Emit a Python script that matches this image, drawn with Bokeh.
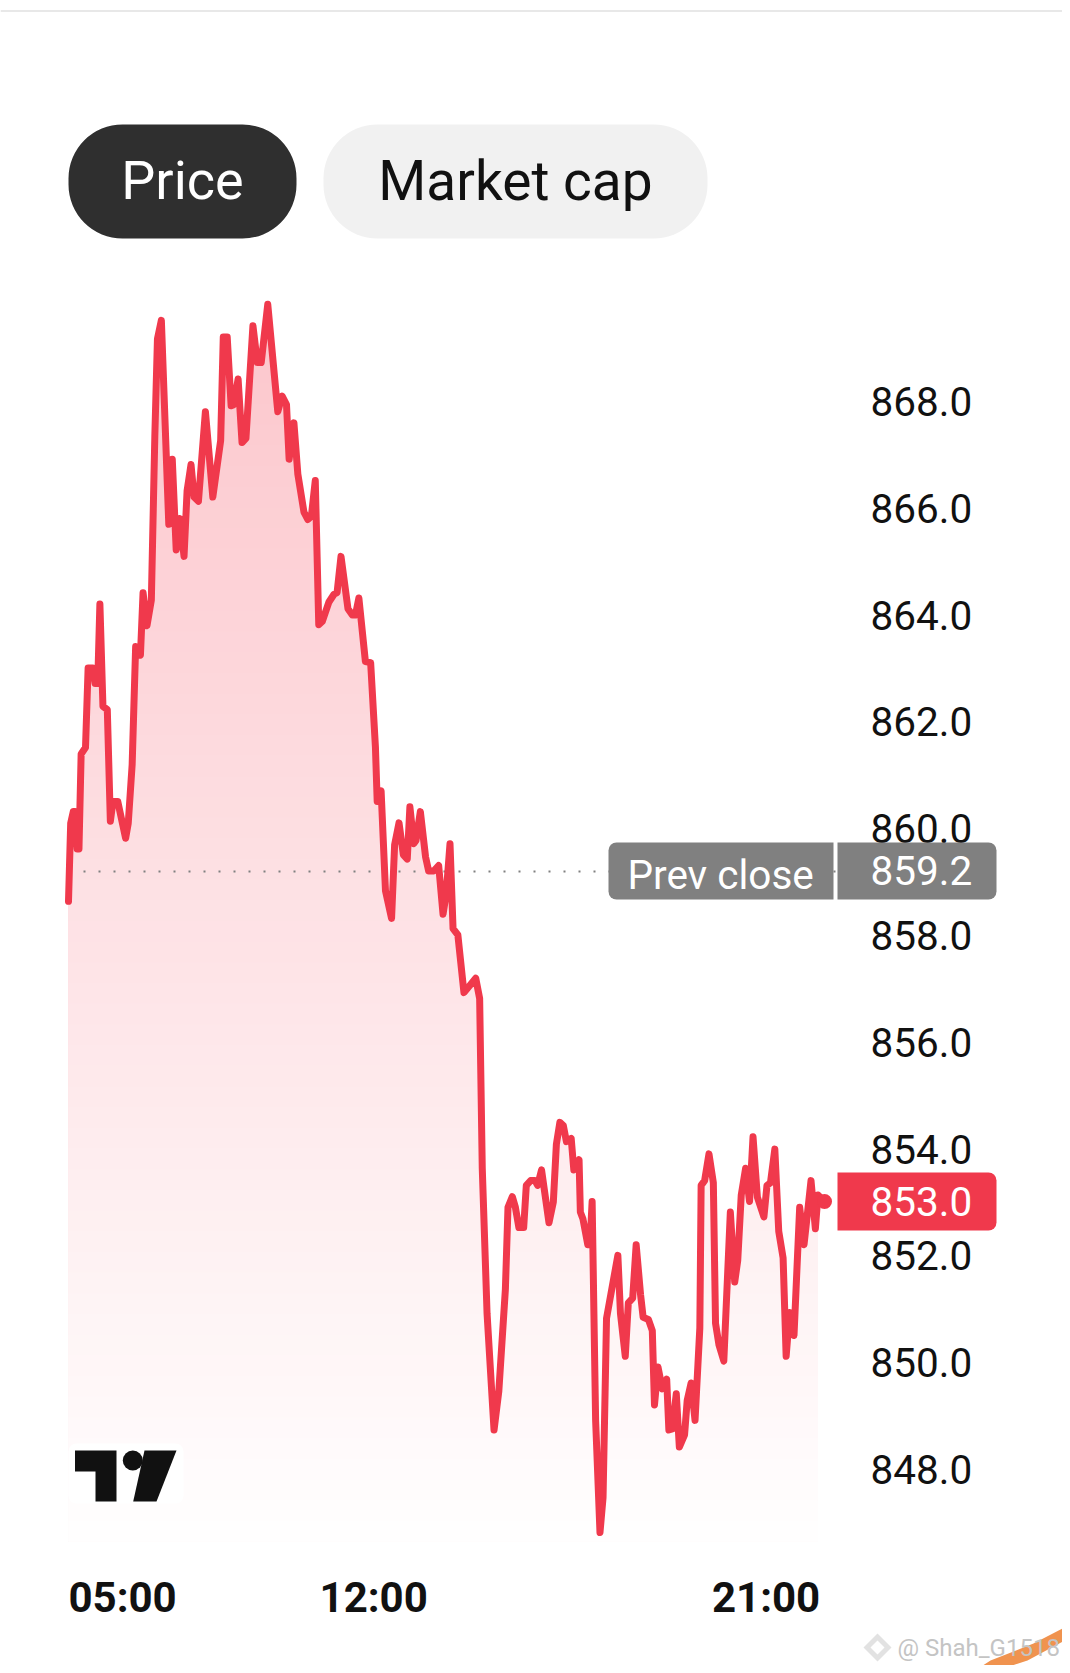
import numpy as np
from bokeh.plotting import figure
from bokeh.models import LinearAxis, Range1d, FixedTicker, BoxAnnotation, PolyAnnotation, Label
from bokeh.embed import file_html
from bokeh.resources import INLINE

# ---- data ----
hours = [5.00,5.05,5.11,5.15,5.20,5.24,5.29,5.39,5.45,5.56,5.61,5.67,5.72,5.79,5.89,5.96,6.02,6.13,6.31,6.37,
 6.46,6.54,6.65,6.71,6.80,6.90,6.98,7.04,7.13,7.30,7.38,7.47,7.55,7.65,7.72,7.81,7.88,7.98,8.14,8.31,
 8.49,8.55,8.64,8.73,8.79,8.89,8.98,9.07,9.23,9.33,9.42,9.57,9.80,9.90,10.00,10.06,10.17,10.26,10.40,10.49,
 10.57,10.66,10.74,10.82,10.97,11.09,11.16,11.25,11.41,11.51,11.58,11.66,11.81,11.93,12.04,12.08,12.17,12.27,12.41,12.48,
 12.58,12.68,12.77,12.83,12.92,12.97,13.07,13.19,13.26,13.38,13.49,13.59,13.66,13.75,13.82,13.93,14.07,14.34,14.43,14.49,
 14.60,14.76,14.87,15.02,15.08,15.18,15.25,15.33,15.44,15.50,15.60,15.70,15.76,15.85,16.02,16.12,16.19,16.27,16.35,16.42,
 16.53,16.59,16.71,16.74,16.80,16.91,16.96,17.01,17.09,17.19,17.26,17.34,17.60,17.66,17.77,17.84,17.94,18.02,18.12,18.18,
 18.30,18.39,18.44,18.52,18.62,18.72,18.77,18.85,18.94,19.01,19.13,19.19,19.28,19.37,19.48,19.51,19.59,19.69,19.79,19.84,
 19.92,20.03,20.18,20.28,20.35,20.43,20.53,20.62,20.70,20.80,20.95,21.02,21.10,21.20,21.29,21.39,21.46,21.54,21.64,21.77,
 21.87,21.94,22.03,22.13,22.19,22.34]
prices = [858.64,860.10,860.32,860.32,859.62,859.62,861.40,861.52,863.01,863.01,862.72,862.72,864.21,862.29,862.23,860.14,860.51,860.51,859.82,860.10,
 861.20,863.41,863.25,864.42,863.80,864.28,867.35,869.17,869.52,865.70,866.92,865.22,865.81,865.10,866.33,866.82,866.21,866.13,867.81,866.21,
 867.27,869.21,869.21,867.92,867.94,868.42,867.23,867.31,869.42,868.73,868.73,869.82,867.81,868.10,867.94,866.92,867.60,866.64,865.93,865.79,
 865.85,866.52,863.82,863.88,864.24,864.39,864.42,865.10,864.12,864.00,864.00,864.32,863.13,863.11,861.52,860.51,860.71,858.84,858.32,859.70,
 860.11,859.51,859.43,860.41,859.72,859.78,860.32,859.47,859.21,859.21,859.31,858.40,858.76,859.72,858.13,858.01,856.93,857.20,856.82,853.64,
 850.92,848.74,849.47,851.37,852.91,853.11,852.91,852.53,852.53,853.32,853.41,853.41,853.32,853.61,852.62,853.01,854.09,854.50,854.44,854.14,
 854.20,853.61,853.80,852.82,852.69,852.21,852.21,853.02,848.92,846.82,847.47,850.83,852.01,850.92,850.12,851.12,851.21,852.21,851.28,850.85,
 850.81,850.60,849.21,849.92,849.51,849.69,848.74,848.76,849.42,848.42,848.65,849.29,849.62,848.92,850.65,853.32,853.41,853.91,853.37,850.74,
 850.33,850.03,852.82,851.51,851.92,853.14,853.64,853.02,854.23,853.10,852.73,853.32,853.37,854.00,852.46,851.96,850.12,850.94,850.51,852.91,
 852.21,852.73,853.41,852.51,853.14,853.02]
y_ticks = [848,850,852,854,856,858,860,862,864,866,868]
x_tick_hours = [6.24,12,21]          # the first label is pushed inward by the chart
x_tick_labels = ["05:00","12:00","21:00"]
prev_close = 859.2
last_price = 853.0
fill_end_hour = 22.19

RED = "#f0394c"; GREY = "#808080"; INK = "#111111"
NUM_FONT = "Roboto"

# picture-pixel helpers (picture x,y -> chart scales)
X = lambda px: 5 + (px - 68) / 43.6
Y = lambda py: 868 - (py - 401) / 53.4
W, H = 1062, 1665

p = figure(width=W, height=H, output_backend="svg", toolbar_location=None,
           x_range=Range1d(X(0), X(W)), y_range=Range1d(Y(H), Y(0)),
           x_axis_location=None, y_axis_location=None, min_border=0,
           outline_line_color=None, background_fill_color="white", border_fill_color="white")
p.grid.visible = False

# gradient area: painted from the top colour down, each layer capped at a lower level
t = np.array(hours); v = np.array(prices)
tf = np.unique(np.concatenate([np.linspace(5, fill_end_hour, 900), t[t <= fill_end_hour]]))
vf = np.interp(tf, t, v)
base = Y(1541); top = Y(300)
N = 60
for i in range(N):
    f = i / N
    lev = top + (base - top) * f
    c = "#%02x%02x%02x" % (int(round(252 + 3 * f)), int(round(198 + 57 * f)), int(round(204 + 51 * f)))
    p.varea(tf, np.full_like(tf, base), np.minimum(vf, lev), fill_color=c, fill_alpha=1)

# previous close dotted line
p.line([hours[0], X(837)], [prev_close, prev_close], line_color=GREY, line_width=2, line_dash="2 13")
# price line
p.line(hours, prices, line_color=RED, line_width=7, line_join="round", line_cap="round")
p.scatter([hours[-1]], [prices[-1]], size=15, fill_color=RED, line_color=None)

# axes
ya = LinearAxis(fixed_location=X(864), ticker=FixedTicker(ticks=y_ticks),
                major_tick_line_color=None, minor_tick_line_color=None, axis_line_color=None,
                major_label_standoff=0, major_label_text_font=NUM_FONT,
                major_label_text_font_size="40.5px", major_label_text_color=INK)
ya.major_label_overrides = {k: f"{k:.1f}" for k in y_ticks}
p.add_layout(ya, "right")
xa = LinearAxis(fixed_location=Y(1566.5), ticker=FixedTicker(ticks=x_tick_hours),
                major_tick_line_color=None, minor_tick_line_color=None, axis_line_color=None,
                major_label_standoff=0, major_label_text_font="Roboto",
                major_label_text_font_style="bold", major_label_text_font_size="42px",
                major_label_text_color=INK)
xa.major_label_overrides = dict(zip(x_tick_hours, x_tick_labels))
p.add_layout(xa, "below")

def box(x0, y0, x1, y1, color, radius=0):
    p.add_layout(BoxAnnotation(left=X(x0), right=X(x1), top=Y(y0), bottom=Y(y1),
                               fill_color=color, fill_alpha=1, line_color=None, border_radius=radius))
def poly(pts, color):
    p.add_layout(PolyAnnotation(xs=[X(a) for a, _ in pts], ys=[Y(b) for _, b in pts],
                                fill_color=color, fill_alpha=1, line_color=None))
def text(x, y, s, color, size, font=NUM_FONT, align="left", style="normal"):
    p.add_layout(Label(x=X(x), y=Y(y), text=s, text_color=color, text_font=font,
                       text_font_size=f"{size}px", text_align=align, text_baseline="middle",
                       text_font_style=style))

# top rule
box(0, 9.5, W, 11.5, "#e8e8e8")

# buttons
box(68, 124, 296, 238, "#2f2f2f", 54)
box(323, 124, 707, 238, "#f1f1f1", 54)
text(182, 180, "Price", "#ffffff", 54, "Roboto", "center")
text(515, 180, "Market cap", INK, 55, "Roboto", "center")

# value tags
box(608, 842, 833, 899, GREY, (8, 0, 0, 8))
box(837, 842, 996, 899, GREY, (0, 8, 8, 0))
box(837, 1172, 996, 1230, RED, (0, 8, 8, 0))
text(627, 874, "Prev close", "#ffffff", 40.5)
text(870, 870, f"{prev_close:.1f}", "#ffffff", 40.5)
text(870, 1201, f"{last_price:.1f}", "#ffffff", 40.5)

# TradingView mark
box(68, 1443, 183, 1503, "#ffffff", 8)
poly([(74.5,1450),(116,1450),(116,1501),(95,1501),(95,1471),(74.5,1471)], INK)
box(122.3, 1450, 142.3, 1470, INK, 10)
poly([(144,1450),(176,1450),(156,1501),(132.7,1501)], INK)

# bottom-right watermark and scribble
poly([(970,1673),(990,1660),(1033,1643),(1070,1624),(1070,1637),(1027,1660),(987,1673)], "#f0934f")
text(897, 1647, "@ Shah_G1518", "#c4c4c4", 24, "Roboto")
poly([(877,1633),(891,1647),(877,1661),(863,1647)], "#e2e2e2")
poly([(877,1640),(884,1647),(877,1654),(870,1647)], "#ffffff")

open("out.html", "w").write(file_html(p, INLINE))
